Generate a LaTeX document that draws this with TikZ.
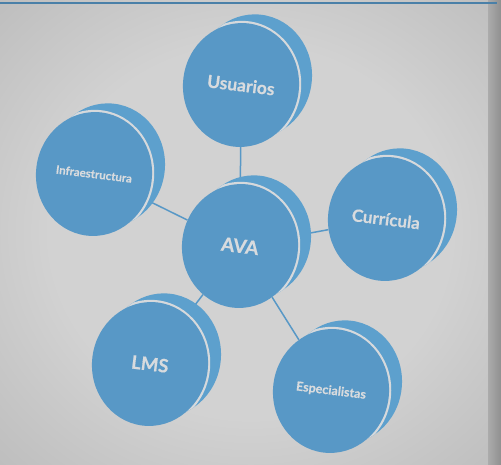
\documentclass[tikz,border=0pt]{standalone}
\usepackage{fontspec}
\setmainfont{Lato}[FakeBold=0.4]
\usetikzlibrary{shapes.geometric,backgrounds}
\definecolor{disk}{HTML}{5898C6}
\definecolor{diskback}{HTML}{5DA0CD}
\definecolor{gapc}{HTML}{D6D9DC}
\definecolor{txt}{HTML}{D8DBDE}
\definecolor{bgin}{HTML}{D2D2D2}
\definecolor{bgout}{HTML}{ABABAB}
\definecolor{bgdark}{HTML}{909090}
\definecolor{topline}{HTML}{4A80A8}
\pgfdeclareradialshading{vign}{\pgfpoint{0bp}{0bp}}{color(0bp)=(bgin); color(20bp)=(bgin); color(50bp)=(bgout)}
\newcommand\backdisk[1]{%
  \begin{scope}[rotate around={-6:(#1.center)}]
    \fill[diskback] ([shift={(12,-10)}]#1.center) ellipse [x radius=58pt, y radius=62pt];
    \begin{scope}
      \clip ([shift={(12,-10)}]#1.center) ellipse [x radius=58pt, y radius=62pt];
      \fill[gapc] (#1.center) ellipse [x radius=60.2pt, y radius=64.2pt];
    \end{scope}
  \end{scope}}
\begin{document}
\begin{tikzpicture}[x=1pt,y=-1pt,
  disk/.style={ellipse, fill=disk, minimum width=116pt, minimum height=124pt,
    inner sep=0pt, text=txt, rotate=-7},
  link/.style={draw=disk, line width=1.5pt}]
\useasboundingbox (0,0) rectangle (501,464);
\node[disk, font=\fontsize{19}{19}\selectfont\bfseries] (ava) at (240,246) {AVA};
\node[disk, font=\fontsize{17.5}{17.5}\selectfont\bfseries] (usu) at (241,85) {Usuarios};
\node[disk, font=\fontsize{11.5}{11.5}\selectfont\bfseries] (inf) at (94,174) {Infraestructura};
\node[disk, font=\fontsize{17}{17}\selectfont\bfseries] (cur) at (386,219) {Currícula};
\node[disk, font=\fontsize{18.5}{18.5}\selectfont\bfseries] (lms) at (150,364) {LMS};
\node[disk, font=\fontsize{12.5}{12.5}\selectfont\bfseries] (esp) at (331,391) {Especialistas};
\begin{pgfonlayer}{background}
  \shade[shading=vign] (0,0) rectangle (501,464);
  \shade[left color=bgout, right color=bgdark] (488,0) rectangle (501,464);
  \draw[topline, line width=2pt] (0,2.5) -- (497,2.5);
  \draw[link] (ava) -- (usu);
  \draw[link] (ava) -- (inf);
  \draw[link] (ava) -- (cur);
  \draw[link] (ava) -- (lms);
  \draw[link] (ava) -- (esp);
  \backdisk{ava}
  \backdisk{usu}
  \backdisk{inf}
  \backdisk{cur}
  \backdisk{lms}
  \backdisk{esp}
\end{pgfonlayer}
\end{tikzpicture}
\end{document}
